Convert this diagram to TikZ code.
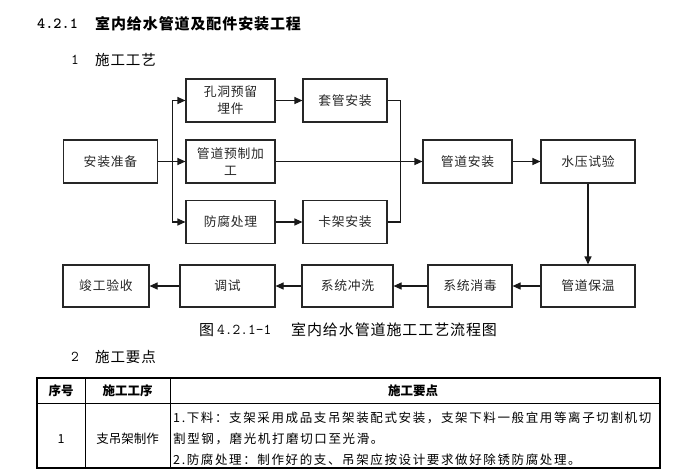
\documentclass[tikz,border=0pt]{standalone}
\usepackage{fontspec}
\newfontfamily\cjk{Noto Sans CJK SC}
\newfontfamily\cjksp[LetterSpace=6]{Noto Sans CJK SC}
\newfontfamily\cjkwide[LetterSpace=13]{Noto Sans CJK SC}
\usetikzlibrary{arrows.meta}
\tikzset{
  box/.style={draw=black!85, line width=1.1pt, minimum height=43pt, inner sep=0pt, align=center,
    font=\cjksp\fontsize{12.8}{17}\selectfont, text=black!85},
  arr/.style={draw=black!90, line width=1.1pt, -{Triangle[length=8pt,width=7pt]}},
  ln/.style={draw=black!90, line width=1.1pt},
  txt/.style={inner sep=0pt, anchor=west, font=\cjksp\fontsize{14.5}{16}\selectfont},
  num/.style={inner sep=0pt, anchor=west, font=\ttfamily\fontsize{15}{16}\selectfont},
  cell/.style={inner sep=0pt, font=\cjkwide\fontsize{12.5}{15}\selectfont},
  hcell/.style={inner sep=0pt, font=\cjk\bfseries\fontsize{12.5}{15}\selectfont},
}
\begin{document}
\begin{tikzpicture}[x=1pt,y=-1pt]
\useasboundingbox (0,0) rectangle (680,472);
% headings
\node[num, font=\ttfamily\bfseries\fontsize{15.5}{16}\selectfont] (h1n) at (37,24) {4.2.1};
\node[txt, font=\cjksp\bfseries\fontsize{15}{16}\selectfont] (h1) at (95,24) {室内给水管道及配件安装工程};
\node[num] (h2n) at (71,60) {1};
\node[txt] (h2) at (95,60) {施工工艺};
% boxes
\node[box, minimum width=94pt] (zb) at (110.5,161.5) {安装准备};
\node[box, minimum width=89pt] (kd) at (230.5,100.5) {孔洞预留\\埋件};
\node[box, minimum width=84pt] (tg) at (345,100.5) {套管安装};
\node[box, minimum width=89pt] (yz) at (230.5,161.5) {管道预制加\\工};
\node[box, minimum width=89pt] (ff) at (230.5,222) {防腐处理};
\node[box, minimum width=84pt] (kj) at (345,222) {卡架安装};
\node[box, minimum width=89pt] (az) at (467.5,161.5) {管道安装};
\node[box, minimum width=94pt] (sy) at (588,161.5) {水压试验};
\node[box, minimum width=94pt, minimum height=42pt] (bw) at (588,286) {管道保温};
\node[box, minimum width=84pt, minimum height=42pt] (xd) at (470,286) {系统消毒};
\node[box, minimum width=91pt, minimum height=42pt] (cx) at (347.5,286) {系统冲洗};
\node[box, minimum width=95pt, minimum height=42pt] (ts) at (227.5,286) {调试};
\node[box, minimum width=86pt, minimum height=42pt] (jg) at (106,286) {竣工验收};
% junctions
\coordinate (ja) at (172.6,161.5);
\coordinate (jb) at (400.7,161.5);
% connectors
\draw[arr] (zb.east) -- (yz.west);
\draw[arr] (ja) |- (kd.west);
\draw[arr] (ja) |- (ff.west);
\draw[arr] (kd.east) -- (tg.west);
\draw[arr] (ff.east) -- (kj.west);
\draw[ln] (tg.east) -| (jb);
\draw[ln] (kj.east) -| (jb);
\draw[arr] (yz.east) -- (az.west);
\draw[arr] (az.east) -- (sy.west);
\draw[arr] (sy.south) -- (bw.north);
\draw[arr] (bw.west) -- (xd.east);
\draw[arr] (xd.west) -- (cx.east);
\draw[arr] (cx.west) -- (ts.east);
\draw[arr] (ts.west) -- (jg.east);
% caption
\node[txt, font=\cjksp\fontsize{15}{16}\selectfont] (capa) at (199,330) {图};
\node[num, font=\ttfamily\fontsize{15}{16}\selectfont] (capn) at (217,330) {4.2.1-1};
\node[txt, font=\cjksp\fontsize{15}{16}\selectfont] (cap) at (291,330) {室内给水管道施工工艺流程图};
\node[num] (h3n) at (71,357) {2};
\node[txt] (h3) at (95,357) {施工要点};
% table
\draw[line width=0.9pt] (37,403) -- (660,403);
\draw[line width=0.9pt] (85,378) -- (85,468);
\draw[line width=0.9pt] (170,378) -- (170,468);
\draw[line width=2pt] (37,378) rectangle (660,468);
\node[hcell] (t1) at (61,391) {序号};
\node[hcell] (t2) at (127.5,391) {施工工序};
\node[hcell] (t3) at (413,391) {施工要点};
\node[cell] (c1) at (61,439) {1};
\node[cell, font=\cjk\fontsize{12.5}{15}\selectfont] (c2) at (127.5,439) {支吊架制作};
\node[cell, anchor=west] (c3a) at (173,418) {1.下料：支架采用成品支吊架装配式安装，支架下料一般宜用等离子切割机切};
\node[cell, anchor=west] (c3b) at (173,439) {割型钢，磨光机打磨切口至光滑。};
\node[cell, anchor=west] (c3c) at (173,460) {2.防腐处理：制作好的支、吊架应按设计要求做好除锈防腐处理。};
\end{tikzpicture}
\end{document}
